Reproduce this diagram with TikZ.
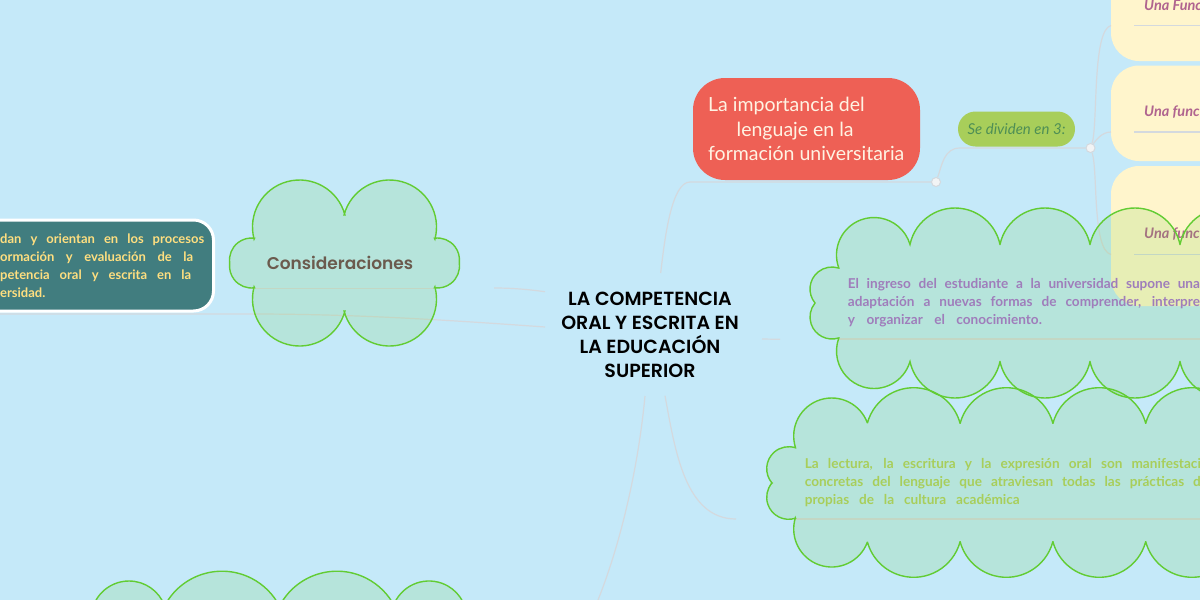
\documentclass[tikz,border=0pt]{standalone}
\usepackage{fontspec}
\setmainfont{Lato}
\newfontfamily\titlefont{Poppins SemiBold}
\definecolor{bgblue}{HTML}{C5E9F9}
\definecolor{cloudgreen}{HTML}{62CC33}
\definecolor{linegray}{HTML}{D4D9DE}
\definecolor{redfill}{HTML}{EE6055}
\definecolor{yellowfill}{HTML}{FFF5CC}
\definecolor{pillgreen}{HTML}{A8CE5A}
\definecolor{tealfill}{HTML}{417D7F}
\definecolor{funcpurple}{HTML}{B0648F}
\definecolor{ingresopurple}{HTML}{9F7DBB}
\definecolor{tealtextcol}{HTML}{FFDF80}
\definecolor{consbrown}{HTML}{6B5B4E}
\definecolor{pilltext}{HTML}{4E8F55}
\definecolor{redtext}{HTML}{FFF3E3}
\tikzset{
	linkline/.style={draw=linegray,line width=1.2pt},
	cloudshape/.style={draw=cloudgreen,line width=1.4pt,fill=cloudgreen,fill opacity=.15},
	funcbox/.style={fill=yellowfill,rounded corners=28pt},
	knob/.style={circle,draw=linegray,fill=white!70!linegray,line width=1pt,minimum size=9pt,inner sep=0pt},
	cloudtext/.style={anchor=west,align=left,inner sep=0pt,font=\bfseries\fontsize{13.6}{18}\selectfont},
	functext/.style={anchor=west,inner sep=0pt,text=funcpurple,font=\bfseries\itshape\fontsize{14.5}{16}\selectfont},
}
\newcommand{\lobe}[5]{-- ([shift={(#1,#2)}]#4:#3) arc[start angle=#4,end angle=#5,radius=#3]}
\newcommand{\jl}[2]{\makebox[#1pt][s]{#2}}
\begin{document}
\begin{tikzpicture}[x=1pt,y=-1pt]
	\useasboundingbox (0,0) rectangle (1200,600);
	\clip (0,0) rectangle (1200,600);
	\fill[bgblue] (0,0) rectangle (1200,600);
	% yellow boxes run off the page
	\fill[funcbox] (1111,-60) rectangle (1300,61);
	\fill[funcbox] (1111,65.5) rectangle (1300,161);
	\fill[funcbox] (1111,166) rectangle (1300,306);
	\node[functext] (funcA) at (1144,5.5) {Una Func};
	\node[functext] (funcB) at (1144,112) {Una func};
	\node[functext] (funcC) at (1144,234) {Una func};
	% red and green boxes
	\node[fill=redfill,rounded corners=32pt,minimum width=227pt,minimum height=102pt,inner sep=0pt] (lang) at (806.5,129) {};
	\node[anchor=west,align=left,inner sep=0pt,text=redtext,font=\fontsize{19.5}{24.3}\selectfont] (langtext) at (708,129) {La importancia del\\\hspace*{28.5pt}lenguaje en la\\formación universitaria};
	\node[fill=pillgreen,rounded corners=17.5pt,minimum width=117pt,minimum height=35pt,inner sep=0pt,text=pilltext,font=\itshape\fontsize{15}{16}\selectfont] (divide) at (1016.5,129) {Se dividen en 3:};
	\node[knob] (knobA) at (936,182) {};
	\node[knob] (knobB) at (1090.5,148) {};
	% connector ends
	\coordinate (titleN) at (660.7,273);
	\coordinate (titleS) at (665,395.7);
	\coordinate (titleSW) at (645,396);
	\coordinate (titleW) at (545,327);
	\coordinate (titleNW) at (545,291.7);
	\coordinate (titleE) at (762,339);
	\coordinate (langW) at (690,182);
	\coordinate (consA) at (494,288);
	\coordinate (tealE) at (250,314);
	\coordinate (tealW) at (0,314);
	\coordinate (ingresoW) at (780,339.3);
	\coordinate (lecturaW) at (736,519);
	\coordinate (bottomC) at (598,600);
	\coordinate (funcAin) at (1111,25.5);
	\coordinate (funcBin) at (1111,132);
	\coordinate (funcCin) at (1111,254.5);
	\draw[linkline] (titleN) .. controls (665,235) and (672,182) .. (langW) -- (knobA);
	\draw[linkline] (knobA) .. controls (942,165) and (944,148) .. (960,148) -- (knobB);
	\draw[linkline] (knobB) .. controls (1098,125) and (1092,30) .. (funcAin);
	\draw[linkline] (knobB) .. controls (1096,140) and (1102,132) .. (funcBin);
	\draw[linkline] (knobB) .. controls (1098,170) and (1092,250) .. (funcCin);
	\draw[linkline] (titleS) .. controls (675,450) and (685,519) .. (lecturaW);
	\draw[linkline] (titleSW) .. controls (638,470) and (620,545) .. (bottomC);
	\draw[linkline] (titleNW) .. controls (525,289) and (510,288) .. (consA);
	\draw[linkline] (titleW) .. controls (420,318) and (340,314) .. (tealE) -- (tealW);
	\draw[linkline] (titleE) -- (ingresoW);
	% underlines
	\draw[linkline] (1134,25.5) -- (1200,25.5);
	\draw[linkline] (1134,132) -- (1200,132);
	\draw[linkline] (1134,254.5) -- (1200,254.5);
	\draw[linkline] (250,288.3) -- (434,288.3);
	\draw[linkline] (838,339) -- (1200,339);
	\draw[linkline] (795,519) -- (1200,519);
	% clouds
	\draw[cloudshape] (815.03,303) \lobe{832}{289}{22}{140.48}{288} \lobe{874}{255}{37.5}{160}{343}
		\foreach \x in {955,1045,1135,1225,1315} {\lobe{\x}{254}{46}{192}{348}}
		-- (1400,303)
		\foreach \x in {1315,1225,1135,1045,955} {\lobe{\x}{352}{46}{12}{168}}
		\lobe{874}{351}{37.5}{17}{200} \lobe{832}{317}{22}{72}{219.52} -- cycle;
	\draw[cloudshape] (771.98,483) \lobe{788.7}{468.7}{22}{139.46}{288} \lobe{831.7}{436}{38}{163}{340}
		\foreach \x in {913.7,1006.5,1099.3,1192.1,1284.9} {\lobe{\x}{435.7}{48}{195}{345}}
		-- (1400,483)
		\foreach \x in {1284.9,1192.1,1099.3,1006.5,913.7} {\lobe{\x}{529.3}{48}{15}{165}}
		\lobe{831.7}{529}{38}{20}{197} \lobe{788.7}{497.3}{22}{72}{220.54} -- cycle;
	\draw[cloudshape] (229.7,263) \lobe{251.5}{260}{22}{172}{278} \lobe{299.5}{227}{47}{165}{345}
		\lobe{389.5}{227}{47}{195}{375} \lobe{437.5}{260}{22}{262}{368} \lobe{437.5}{266}{22}{-8}{98}
		\lobe{389.5}{299}{47}{-15}{165} \lobe{299.5}{299}{47}{15}{195} \lobe{251.5}{266}{22}{82}{188} -- cycle;
	\draw[cloudshape] (95,660) \lobe{129}{619}{38}{180}{340} \lobe{222}{636}{64.8}{207.5}{332.5}
		\lobe{337}{636}{64.8}{207.5}{332.5} \lobe{429}{619}{38}{200}{360} -- (467,660) -- cycle;
	% teal box on the left
	\node[draw=white,line width=3pt,fill=tealfill,rounded corners=20pt,minimum width=240pt,minimum height=91pt,inner sep=0pt] (teal) at (93.5,265.5) {};
	% texts
	\node[anchor=west,align=left,inner sep=0pt,text=tealtextcol,font=\bfseries\fontsize{13}{18}\selectfont] (tealtext) at (0,265.5) {\jl{204}{dan y orientan en los procesos}\\\jl{193}{ormación y evaluación de la}\\\jl{191}{petencia oral y escrita en la}\\ersidad.};
	\node[inner sep=0pt,text=consbrown,font=\titlefont\fontsize{17}{20}\selectfont] (cons) at (340,263) {Consideraciones};
	\node[cloudtext,text=ingresopurple] (ingreso) at (847.7,302.5) {\jl{352}{El ingreso del estudiante a la universidad supone una}\\\jl{352}{adaptación a nuevas formas de comprender, interpre}\\\jl{194}{y organizar el conocimiento.}};
	\node[cloudtext,text=pillgreen] (lectura) at (804.6,482.7) {\jl{396}{La lectura, la escritura y la expresión oral son manifestaci}\\\jl{396}{concretas del lenguaje que atraviesan todas las prácticas d}\\\jl{215}{propias de la cultura académica}};
	\node[align=center,inner sep=0pt,text=black,font=\titlefont\fontsize{19}{24}\selectfont] (title) at (650,335) {LA COMPETENCIA\\ORAL Y ESCRITA EN\\LA EDUCACIÓN\\SUPERIOR};
\end{tikzpicture}
\end{document}
